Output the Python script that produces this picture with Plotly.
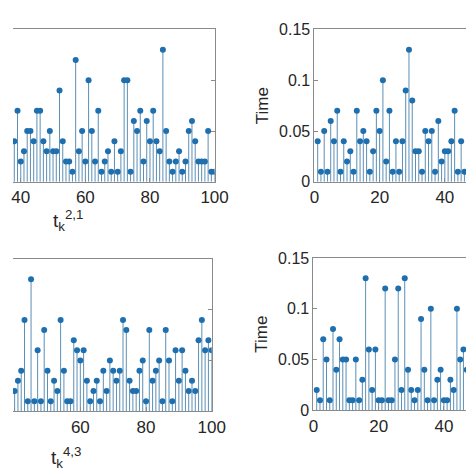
import plotly.graph_objects as go

# top-left (t_k^{2,1}), visible indices 37..100
tl_x = list(range(37, 101))
tl_y = [0.04, 0.04, 0.07,
        0.02, 0.03, 0.05, 0.05, 0.04, 0.07, 0.07, 0.04, 0.03, 0.05,
        0.03, 0.03, 0.09, 0.04, 0.02, 0.02, 0.01, 0.12, 0.03, 0.05,
        0.02, 0.10, 0.05, 0.02, 0.07, 0.01, 0.02, 0.03, 0.01, 0.04,
        0.01, 0.03, 0.10, 0.10, 0.01, 0.06, 0.05, 0.07, 0.02, 0.06,
        0.04, 0.07, 0.04, 0.03, 0.13, 0.05, 0.02, 0.01, 0.02, 0.03,
        0.01, 0.02, 0.05, 0.06, 0.04, 0.02, 0.02, 0.02, 0.05, 0.01, 0.01]
tl_y = tl_y[:len(tl_x)]

# top-right, indices 1..47
tr_x = list(range(1, 48))
tr_y = [0.04, 0.01, 0.05, 0.01, 0.06, 0.04, 0.07, 0.01, 0.04, 0.02,
        0.03, 0.01, 0.07, 0.04, 0.05, 0.04, 0.01, 0.03, 0.07, 0.05,
        0.10, 0.02, 0.07, 0.01, 0.04, 0.01, 0.04, 0.09, 0.13, 0.08,
        0.03, 0.03, 0.01, 0.05, 0.04, 0.05, 0.01, 0.06, 0.02, 0.03,
        0.03, 0.04, 0.07, 0.01, 0.04, 0.01, 0.01]

# bottom-left (t_k^{4,3}), indices 40..100
bl_x = list(range(40, 101))
bl_y = [0.02, 0.03, 0.04, 0.09, 0.01, 0.13, 0.01, 0.06, 0.01, 0.08,
        0.04, 0.01, 0.03, 0.02, 0.09, 0.04, 0.01, 0.01, 0.07, 0.06,
        0.05, 0.06, 0.03, 0.01, 0.02, 0.03, 0.01, 0.04, 0.02, 0.05,
        0.04, 0.03, 0.04, 0.09, 0.08, 0.03, 0.02, 0.02, 0.04, 0.05,
        0.01, 0.08, 0.03, 0.04, 0.05, 0.01, 0.08, 0.05, 0.01, 0.06,
        0.03, 0.06, 0.04, 0.02, 0.03, 0.02, 0.07, 0.09, 0.06, 0.07, 0.06]

# bottom-right, indices 1..48
br_x = list(range(1, 49))
br_y = [0.02, 0.01, 0.07, 0.05, 0.01, 0.08, 0.04, 0.07, 0.05, 0.05,
        0.01, 0.01, 0.05, 0.01, 0.03, 0.13, 0.06, 0.02, 0.06, 0.01,
        0.01, 0.12, 0.01, 0.01, 0.05, 0.12, 0.02, 0.13, 0.04, 0.02,
        0.01, 0.02, 0.09, 0.04, 0.01, 0.10, 0.01, 0.03, 0.04, 0.01,
        0.01, 0.03, 0.02, 0.10, 0.05, 0.06, 0.04, 0.07]

C = "#1f6fae"
FONT = "Liberation Sans, Arial, sans-serif"
fig = go.Figure()

panels = [
    (tl_x, tl_y, "x", "y"),
    (tr_x, tr_y, "x2", "y2"),
    (bl_x, bl_y, "x3", "y3"),
    (br_x, br_y, "x4", "y4"),
]
for xs, ys, xa, ya in panels:
    fig.add_trace(go.Scatter(
        x=xs, y=ys, xaxis=xa, yaxis=ya, mode="markers",
        marker=dict(color=C, size=6),
        error_y=dict(type="data", symmetric=False, array=[0] * len(ys),
                     arrayminus=ys, color="#5b8fb5", thickness=1, width=0),
        showlegend=False, cliponaxis=True))

H = 474
def dy(top, bottom):
    return [1 - bottom / H, 1 - top / H]

axc = "#8a8a8a"
xcommon = dict(showline=True, linecolor=axc, mirror=True, ticks="inside",
               ticklen=4, tickcolor=axc, showgrid=False, zeroline=False,
               tickfont=dict(family=FONT, size=17, color="#262626"),
               tickvals=[0, 20, 40, 60, 80, 100])
ycommon = dict(showline=True, linecolor=axc, ticks="inside", ticklen=4,
               tickcolor=axc, showgrid=False, zeroline=False,
               range=[0, 0.15], tickvals=[0, 0.05, 0.1, 0.15],
               ticktext=["0", "0.05", "0.1", "0.15"],
               tickfont=dict(family=FONT, size=16, color="#262626"))

fig.update_layout(
    width=474, height=474, margin=dict(l=0, r=0, t=0, b=0),
    plot_bgcolor="white", paper_bgcolor="white",
    xaxis=dict(domain=[0, 210 / 474], range=[37.6, 100], anchor="y", **xcommon),
    yaxis=dict(domain=dy(14, 172), anchor="x", side="right", showticklabels=False,
               **ycommon),
    xaxis2=dict(domain=[314 / 474, 1], range=[0, 47.1], anchor="y2", **xcommon),
    yaxis2=dict(domain=dy(14, 172), anchor="x2",
                title=dict(text="Time", font=dict(family=FONT, size=17, color="#262626"),
                           standoff=6), **ycommon),
    xaxis3=dict(domain=[0, 207 / 474], range=[39.5, 100], anchor="y3", **xcommon),
    yaxis3=dict(domain=dy(252, 410), anchor="x3", side="right", showticklabels=False,
                **ycommon),
    xaxis4=dict(domain=[313 / 474, 1], range=[0, 47.4], anchor="y4", **xcommon),
    yaxis4=dict(domain=dy(251, 409), anchor="x4",
                title=dict(text="Time", font=dict(family=FONT, size=17, color="#262626"),
                           standoff=6), **ycommon),
)

for txt, x, y in [("t<sub>k</sub><sup>2,1</sup>", 40, 212),
                  ("t<sub>k</sub><sup>4,3</sup>", 37, 458)]:
    fig.add_annotation(text=txt, x=x / 474, y=1 - y / H, xref="paper", yref="paper",
                       yanchor="middle", showarrow=False,
                       font=dict(family=FONT, size=19, color="#262626"))

fig.write_html("out.html")
